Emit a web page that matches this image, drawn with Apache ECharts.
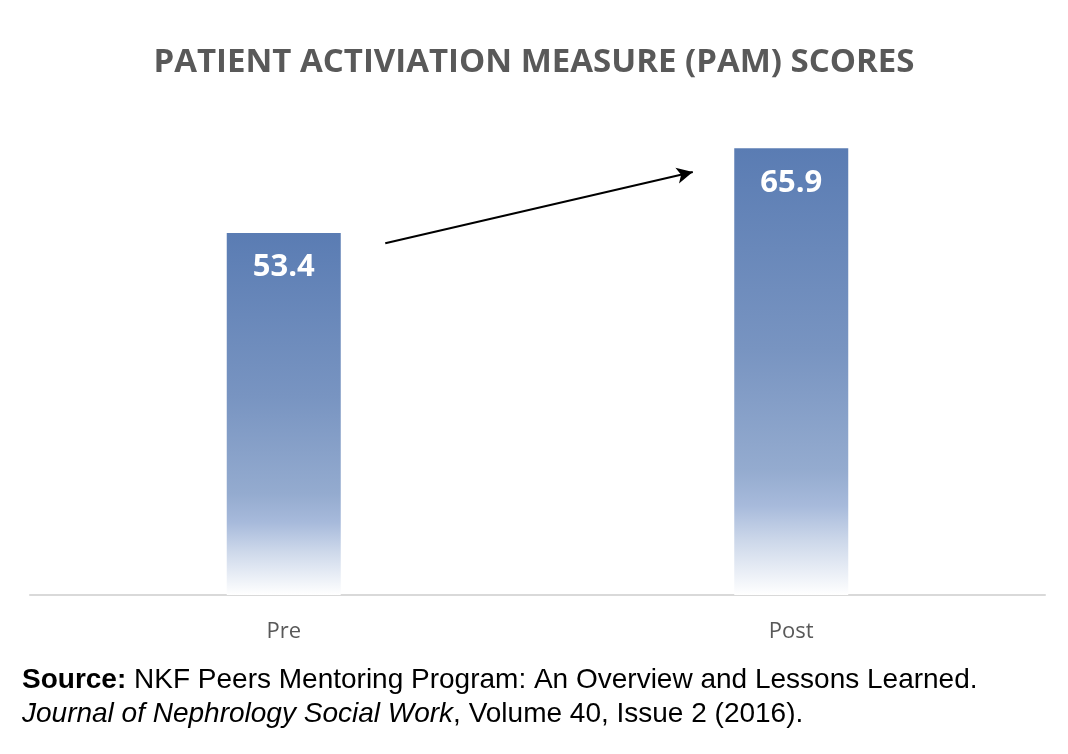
<!DOCTYPE html>
<html><head><meta charset="utf-8">
<script src="https://cdn.jsdelivr.net/npm/echarts@6/dist/echarts.min.js"></script>
<style>html,body{margin:0;padding:0;background:#fff}#c{width:1068px;height:754px}</style>
</head><body><div id="c"></div>
<script>
const titleText = 'PATIENT ACTIVIATION MEASURE (PAM) SCORES';
const categories = ['Pre', 'Post'];
const scores = [53.4, 65.9];
const arrowStart = [0.35, 51.9];
const arrowEnd = [0.653, 62.4];
const sourceLine1 = ['Source:', ' NKF Peers Mentoring Program: An Overview and Lessons Learned.'];
const sourceLine2 = ['Journal of Nephrology Social Work', ', Volume 40, Issue 2 (2016).'];

const chart = echarts.init(document.getElementById('c'));
const barGrad = new echarts.graphic.LinearGradient(0, 0, 0, 1, [
  {offset: 0, color: '#5a7cb3'},
  {offset: 0.45, color: '#7894c1'},
  {offset: 0.72, color: '#94abcf'},
  {offset: 0.8, color: '#a7badb'},
  {offset: 0.88, color: '#cdd8ea'},
  {offset: 1, color: '#ffffff'}
]);
chart.setOption({
  animation: false,
  title: {
    text: titleText, left: 'center', top: 41,
    textStyle: {fontFamily: 'Open Sans', fontWeight: 'bold', fontSize: 33, color: '#595959'}
  },
  grid: {left: 30, right: 23, top: 120.5, bottom: 159},
  xAxis: [{
    type: 'category', data: categories,
    axisLine: {lineStyle: {color: '#d9d9d9', width: 2}},
    axisTick: {show: false},
    axisLabel: {color: '#595959', fontSize: 22, fontFamily: 'Open Sans', margin: 26}
  }, {
    type: 'value', min: 0, max: 1, show: false
  }],
  yAxis: {type: 'value', min: 0, max: 70, show: false},
  series: [{
    type: 'bar', data: scores, barWidth: 114,
    itemStyle: {color: barGrad},
    label: {
      show: true, position: 'insideTop', distance: 19,
      color: '#ffffff', fontSize: 31, fontWeight: 'bold', fontFamily: 'Open Sans',
      formatter: p => p.value.toFixed(1)
    }
  }, {
    type: 'line', xAxisIndex: 1, data: [], silent: true,
    markLine: {
      silent: true, animation: false,
      symbol: ['none', 'arrow'], symbolSize: [12, 16],
      label: {show: false},
      lineStyle: {color: '#000', width: 2, type: 'solid'},
      data: [[{coord: arrowStart}, {coord: arrowEnd}]]
    }
  }],
  graphic: [{
    type: 'text', left: 22, top: 666,
    style: {
      text: '{b|' + sourceLine1[0] + '}{n|' + sourceLine1[1] + '}',
      rich: {
        b: {fontFamily: 'Liberation Sans', fontWeight: 'bold', fontSize: 28, fill: '#000'},
        n: {fontFamily: 'Liberation Sans', fontSize: 28, fill: '#000'}
      }
    }
  }, {
    type: 'text', left: 22, top: 700,
    style: {
      text: '{i|' + sourceLine2[0] + '}{n|' + sourceLine2[1] + '}',
      rich: {
        i: {fontFamily: 'Liberation Sans', fontStyle: 'italic', fontSize: 28, fill: '#000'},
        n: {fontFamily: 'Liberation Sans', fontSize: 28, fill: '#000'}
      }
    }
  }]
});
</script></body></html>
